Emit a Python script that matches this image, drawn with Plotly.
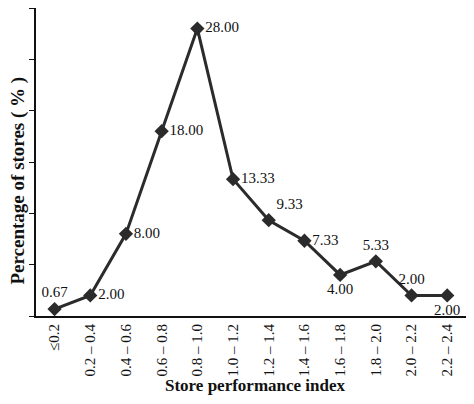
import plotly.graph_objects as go

categories = ["≤0.2", "0.2 – 0.4", "0.4 – 0.6", "0.6 – 0.8", "0.8 – 1.0", "1.0 – 1.2",
              "1.2 – 1.4", "1.4 – 1.6", "1.6 – 1.8", "1.8 – 2.0", "2.0 – 2.2", "2.2 – 2.4"]
percent = [0.67, 2.00, 8.00, 18.00, 28.00, 13.33, 9.33, 7.33, 4.00, 5.33, 2.00, 2.00]
label_pos = ["top center", "middle right", "middle right", "middle right", "middle right",
             "middle right", "top right", "middle right", "bottom center", "top center",
             "top center", "bottom center"]

# page has an 8px body margin, so the figure is kept small enough to fit the window
fig = go.Figure()
fig.add_trace(
    go.Scatter(
        x=list(range(len(categories))),
        y=percent,
        mode="lines+markers+text",
        line=dict(color="#2b2b2b", width=3),
        marker=dict(symbol="diamond", size=11, color="#2b2b2b"),
        text=[f"{v:.2f}" for v in percent],
        textposition=label_pos,
        textfont=dict(family="Liberation Serif", size=15, color="#111"),
        cliponaxis=False,
        showlegend=False,
    )
)
fig.update_layout(
    width=466,
    height=388,
    margin=dict(l=28, r=0, t=0, b=80),
    plot_bgcolor="white",
    paper_bgcolor="white",
    font=dict(family="Liberation Serif", color="#111"),
    annotations=[
        dict(
            text="<b>Percentage of stores ( % )</b>",
            textangle=-90,
            xref="paper", yref="paper",
            x=-0.041, y=0.44,
            xanchor="center", yanchor="middle",
            showarrow=False,
            font=dict(size=19),
        ),
        dict(
            text="<b>Store performance index</b>",
            xref="paper", yref="paper",
            x=0.5, y=-0.227,
            xanchor="center", yanchor="middle",
            showarrow=False,
            font=dict(size=17),
        ),
    ],
)
fig.update_xaxes(
    range=[-0.52, 11.75],
    automargin=False,
    tickvals=list(range(len(categories))),
    ticktext=categories,
    tickangle=-90,
    tickfont=dict(size=15),
    showline=True,
    linecolor="#111",
    linewidth=2,
    showgrid=False,
    zeroline=False,
)
fig.update_yaxes(
    range=[0, 30],
    automargin=False,
    dtick=5,
    showticklabels=False,
    ticks="outside",
    ticklen=5,
    tickcolor="#111",
    showline=True,
    linecolor="#111",
    linewidth=2,
    showgrid=False,
    zeroline=False,
)

fig.write_html("out.html")
